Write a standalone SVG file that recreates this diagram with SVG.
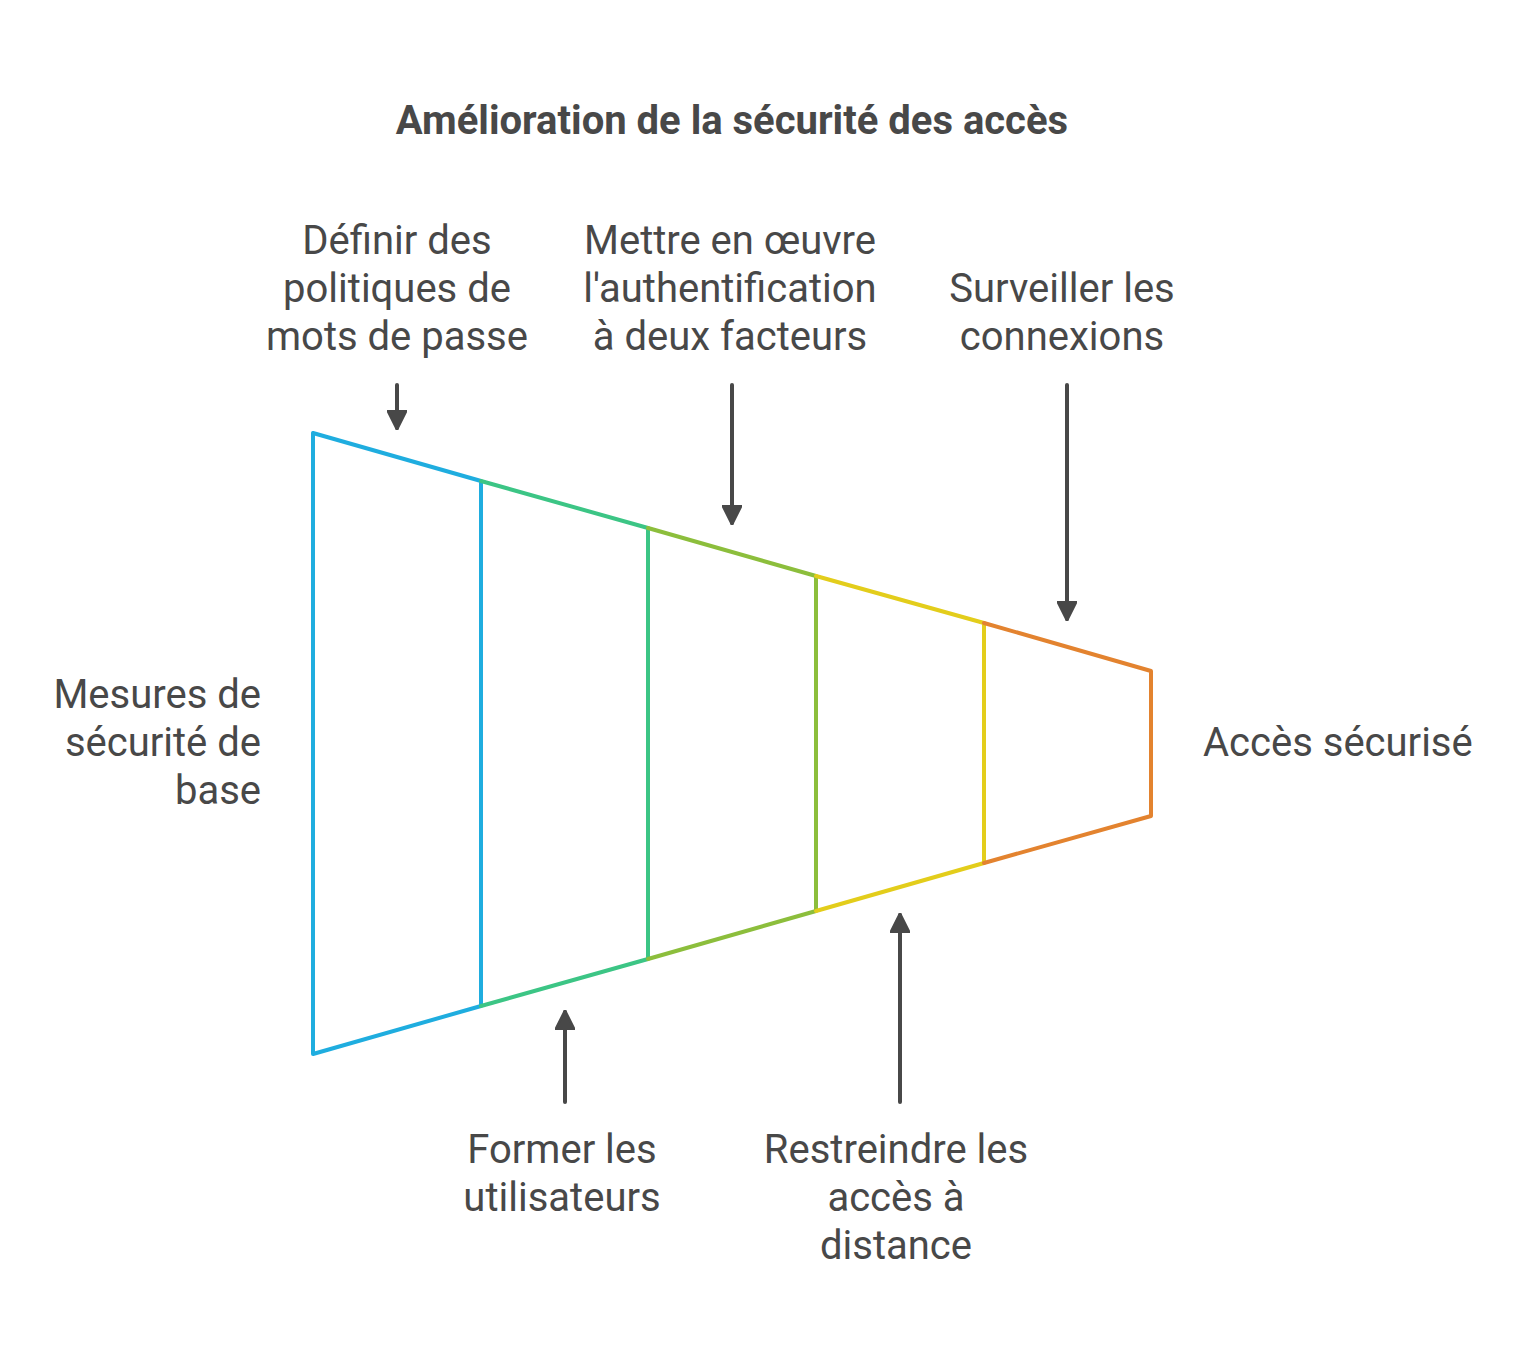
<svg xmlns="http://www.w3.org/2000/svg" width="1536" height="1368" viewBox="0 0 1536 1368">
<defs>
<style>
.t{font-family:Roboto,"Liberation Sans",sans-serif;font-size:40px;fill:#484848}
.title{font-family:Roboto,"Liberation Sans",sans-serif;font-size:40px;font-weight:bold;fill:#484848}
.c{text-anchor:middle}
.s{fill:none;stroke-width:4;stroke-linejoin:round;stroke-linecap:round}
.arr{stroke:#484848;stroke-width:4;fill:none;stroke-linecap:round}
</style>
<marker id="ah" viewBox="0 0 10 10" refX="9" refY="5" markerWidth="5" markerHeight="5" markerUnits="strokeWidth" orient="auto">
<path d="M0,0 L10,5 L0,10 z" fill="#484848" stroke="#484848" stroke-linejoin="round"/>
</marker>
</defs>
<rect width="1536" height="1368" fill="#ffffff"/>
<text class="title c" x="732" y="134">Amélioration de la sécurité des accès</text>
<g id="funnel">
<path id="seg1" class="s" stroke="#1FADDF" d="M481,481 L313,433 L313,1054 L481,1006 Z"/>
<path id="seg2" class="s" stroke="#3CC585" d="M481,481 L648,528 M481,1006 L648,959 M648,528 L648,959"/>
<path id="seg3" class="s" stroke="#8CBE3C" d="M648,528 L816,576 M648,959 L816,911 M816,576 L816,911"/>
<path id="seg4" class="s" stroke="#E3CD1B" d="M816,576 L984,623 M816,911 L984,863 M984,623 L984,863"/>
<path id="seg5" class="s" stroke="#E3832F" d="M984,623 L1151,671 L1151,816 L984,863"/>
</g>
<g id="connectors">
<line class="arr" x1="397" y1="385" x2="397" y2="428" marker-end="url(#ah)"/>
<line class="arr" x1="732" y1="385" x2="732" y2="523" marker-end="url(#ah)"/>
<line class="arr" x1="1067" y1="385" x2="1067" y2="619" marker-end="url(#ah)"/>
<line class="arr" x1="565" y1="1102" x2="565" y2="1012" marker-end="url(#ah)"/>
<line class="arr" x1="900" y1="1102" x2="900" y2="915" marker-end="url(#ah)"/>
</g>
<g id="label-definir">
<text class="t c" x="397" y="254">Définir des</text>
<text class="t c" x="397" y="302">politiques de</text>
<text class="t c" x="397" y="350">mots de passe</text>
</g>
<g id="label-mettre">
<text class="t c" x="730" y="254">Mettre en œuvre</text>
<text class="t c" x="730" y="302">l'authentification</text>
<text class="t c" x="730" y="350">à deux facteurs</text>
</g>
<g id="label-surveiller">
<text class="t c" x="1062" y="302">Surveiller les</text>
<text class="t c" x="1062" y="350">connexions</text>
</g>
<g id="label-mesures">
<text class="t" text-anchor="end" x="261" y="708">Mesures de</text>
<text class="t" text-anchor="end" x="261" y="756">sécurité de</text>
<text class="t" text-anchor="end" x="261" y="804">base</text>
</g>
<g id="label-acces">
<text class="t" x="1203" y="756">Accès sécurisé</text>
</g>
<g id="label-former">
<text class="t c" x="562" y="1163">Former les</text>
<text class="t c" x="562" y="1211">utilisateurs</text>
</g>
<g id="label-restreindre">
<text class="t c" x="896" y="1163">Restreindre les</text>
<text class="t c" x="896" y="1211">accès à</text>
<text class="t c" x="896" y="1259">distance</text>
</g>
</svg>
